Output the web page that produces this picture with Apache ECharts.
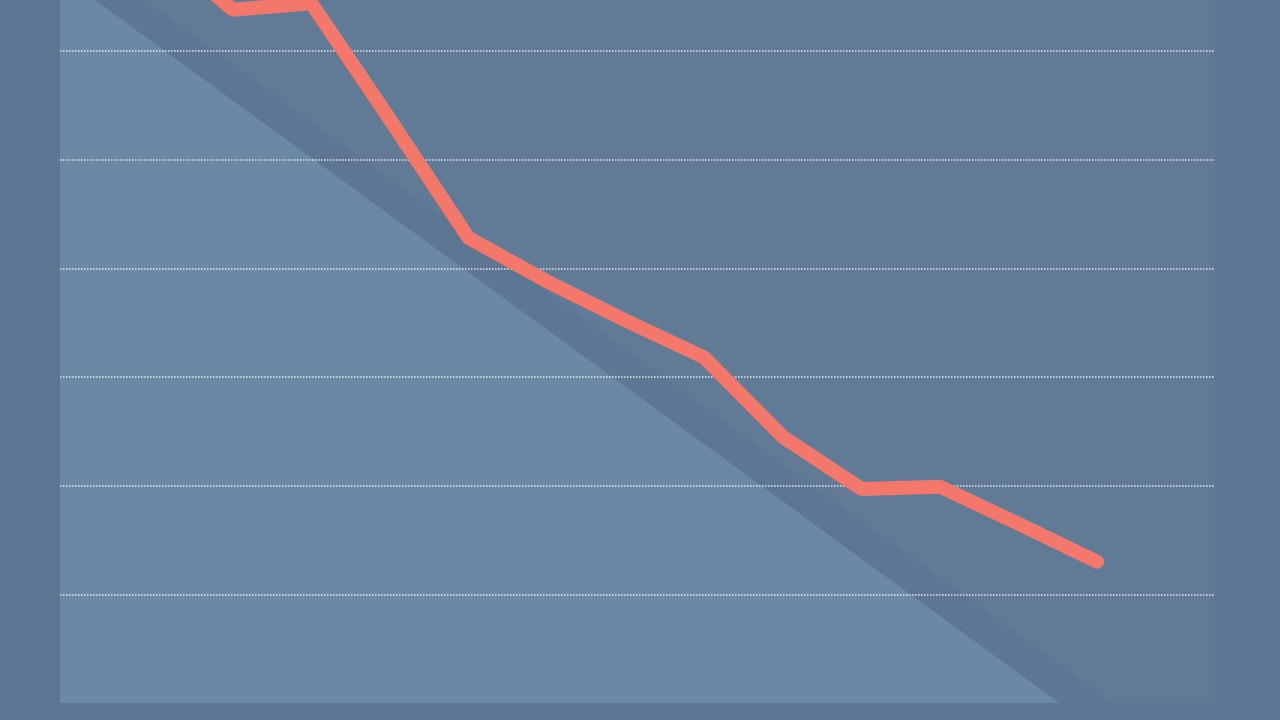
<!DOCTYPE html>
<html>
<head>
<meta charset="utf-8">
<script src="https://cdn.jsdelivr.net/npm/echarts@6/dist/echarts.min.js"></script>
<style>
html, body { margin: 0; padding: 0; background: #5c7592; }
#main { width: 1280px; height: 720px; }
</style>
</head>
<body>
<div id="main"></div>
<script>
// 数据
var days = [1, 2, 3, 4, 5, 6, 7, 8, 9, 10, 11, 12, 13];
var remaining = [70, 63.8, 64.4, 53.7, 42.8, 38.8, 35.2, 31.8, 24.5, 19.7, 19.9, 16.5, 13.0];
var idealX = [-0.2, 12.52, 14.5];
var idealY = [67.05, 0, 0];
var shadowX = [-0.2, 13.2];
var shadowY = [70.3, 0];
var yTicks = [0, 10, 20, 30, 40, 50, 60];

function pairs(xs, ys) {
    var out = [];
    for (var i = 0; i < xs.length; i++) {
        out.push([xs[i], ys[i]]);
    }
    return out;
}

var chart = echarts.init(document.getElementById('main'));
var option = {
    backgroundColor: '#5c7592',
    animation: false,
    grid: {
        show: true,
        left: 60,
        right: 65,
        top: 0,
        bottom: 17,
        backgroundColor: '#617b97',
        borderWidth: 0
    },
    xAxis: {
        type: 'value',
        min: -0.2,
        max: 14.5,
        show: false
    },
    yAxis: {
        type: 'value',
        min: yTicks[0],
        max: 64.7,
        interval: yTicks[1] - yTicks[0],
        z: 3,
        axisLine: { show: false },
        axisTick: { show: false },
        axisLabel: { show: false },
        splitLine: {
            show: true,
            showMinLine: false,
            showMaxLine: false,
            lineStyle: {
                color: 'rgba(255,255,255,0.85)',
                type: 'dotted',
                width: 1.5
            }
        }
    },
    series: [
        {
            name: 'shadow',
            type: 'line',
            data: pairs(shadowX, shadowY),
            symbol: 'none',
            silent: true,
            lineStyle: { width: 0 },
            areaStyle: { color: '#5c7693', opacity: 1 },
            z: 1
        },
        {
            name: 'ideal',
            type: 'line',
            data: pairs(idealX, idealY),
            symbol: 'none',
            silent: true,
            lineStyle: { width: 0 },
            areaStyle: { color: '#6b88a4', opacity: 1 },
            z: 2
        },
        {
            name: 'remaining',
            type: 'line',
            data: pairs(days, remaining),
            symbol: 'none',
            lineStyle: {
                color: '#f3776a',
                width: 14,
                cap: 'round'
            },
            z: 5
        }
    ]
};
chart.setOption(option);
</script>
</body>
</html>
